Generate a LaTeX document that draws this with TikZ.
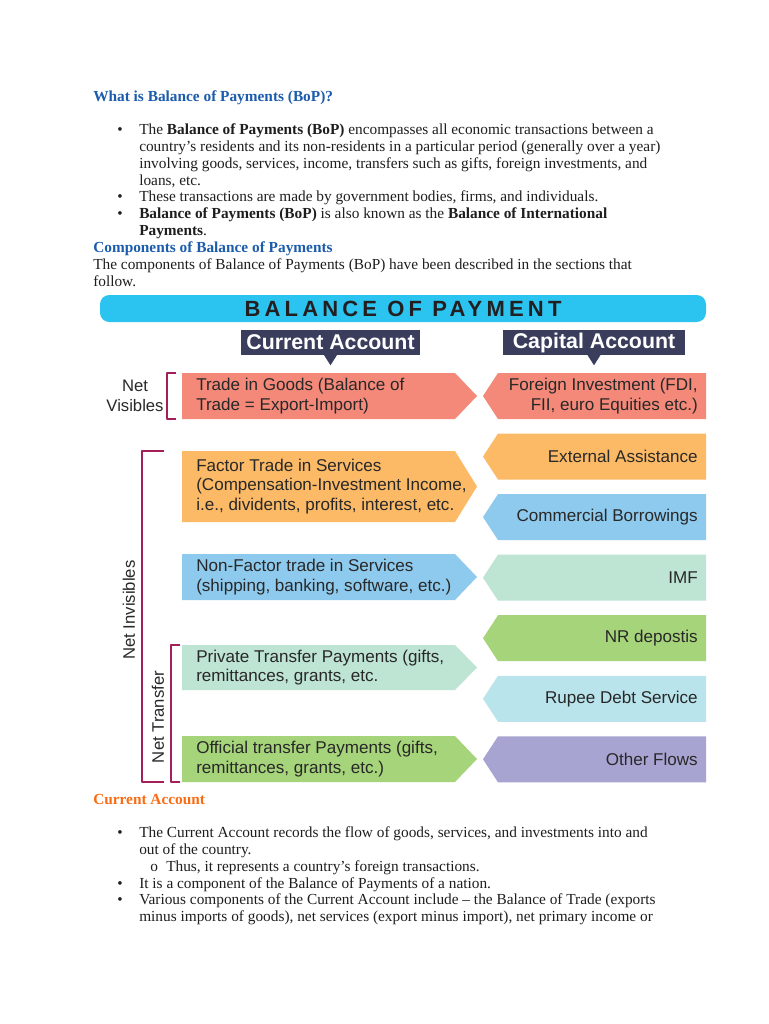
\documentclass[tikz,border=0pt]{standalone}
\usepackage{fontspec}
\setmainfont{Liberation Serif}
\newfontfamily\diafont{Liberation Sans}
\newfontfamily\bannerfont{Liberation Sans}[LetterSpace=19]

\definecolor{headblue}{RGB}{28,92,172}
\definecolor{headorange}{RGB}{250,108,20}
\definecolor{bodytxt}{RGB}{30,30,30}
\definecolor{boxtxt}{RGB}{40,40,40}
\definecolor{bannercyan}{RGB}{43,196,240}
\definecolor{bannertxt}{RGB}{35,31,32}
\definecolor{navy}{RGB}{58,61,92}
\definecolor{salmon}{RGB}{244,137,122}
\definecolor{orangebox}{RGB}{252,186,102}
\definecolor{bluebox}{RGB}{142,202,237}
\definecolor{mintbox}{RGB}{190,228,212}
\definecolor{greenbox}{RGB}{166,212,122}
\definecolor{cyanbox}{RGB}{186,228,236}
\definecolor{purplebox}{RGB}{168,164,210}
\definecolor{brackc}{RGB}{164,30,90}

\begin{document}
\begin{tikzpicture}[x=0.75pt, y=-0.75pt, line join=round,
  body/.style={anchor=base west, inner sep=0pt, text=bodytxt, font=\fontsize{11.5}{12.75}\selectfont},
  head/.style={body, font=\bfseries\fontsize{11.5}{12.75}\selectfont},
  acc/.style={fill=navy, text=white, inner sep=0pt, minimum width=134.25pt, minimum height=18.75pt, font=\diafont\bfseries\fontsize{16}{18}\selectfont},
  ltext/.style={anchor=west, align=left, inner sep=0pt, text=boxtxt, font=\diafont\fontsize{12.8}{14.6}\selectfont},
  rtext/.style={ltext, anchor=east, align=right},
  lbl/.style={inner sep=0pt, text=boxtxt, font=\diafont\fontsize{12.5}{14.6}\selectfont},
  brk/.style={draw=brackc, line width=1.2pt}]
  \useasboundingbox[fill=white] (0,0) rectangle (768,1024);

  % Introduction text
  \node[head, text=headblue] (what) at (93,101) {What is Balance of Payments (BoP)?};
  \node[body] (b1) at (117,134.5) {\textbullet};
  \node[body] (l1) at (139,134.5) {The \textbf{Balance of Payments (BoP)} encompasses all economic transactions between a};
  \node[body] (l2) at (139,151.4) {country’s residents and its non-residents in a particular period (generally over a year)};
  \node[body] (l3) at (139,168.2) {involving goods, services, income, transfers such as gifts, foreign investments, and};
  \node[body] (l4) at (139,185.1) {loans, etc.};
  \node[body] (b2) at (117,201.9) {\textbullet};
  \node[body] (l5) at (139,201.9) {These transactions are made by government bodies, firms, and individuals.};
  \node[body] (b3) at (117,218.8) {\textbullet};
  \node[body] (l6) at (139,218.8) {\textbf{Balance of Payments (BoP)} is also known as the \textbf{Balance of International}};
  \node[body] (l7) at (139,235.6) {\textbf{Payments}.};
  \node[head, text=headblue] (comp) at (93,252.5) {Components of Balance of Payments};
  \node[body] (c1) at (93,269.3) {The components of Balance of Payments (BoP) have been described in the sections that};
  \node[body] (c2) at (93,286.2) {follow.};

  % Banner and the two account headers
  \fill[bannercyan, rounded corners=7] (100,295) rectangle (706,322);
  \node[inner sep=0pt, text=bannertxt, font=\bannerfont\bfseries\fontsize{16.5}{17}\selectfont] (bop) at (403,308.5) {BALANCE OF PAYMENT};
  \node[acc] (curacc) at (330.5,342.5) {Current Account};
  \node[acc, minimum width=136.5pt] (capacc) at (594,342.5) {Capital Account};
  \fill[navy] (curacc.south) ++(-7,-1) -- ++(7,11) -- ++(7,-11) -- cycle;
  \fill[navy] (capacc.south) ++(-7,-1) -- ++(7,11) -- ++(7,-11) -- cycle;

  % Current account arrows (left column)
  \foreach \t/\b/\c in {373/419/salmon, 451/522/orangebox, 554/600/bluebox, 645/690/mintbox, 736/782/greenbox}
    \fill[\c] (182,\t) -- (455,\t) -- (477,{(\t+\b)/2}) -- (455,\b) -- (182,\b) -- cycle;

  % Capital account boxes (right column)
  \foreach \c [count=\i from 0] in {salmon, orangebox, bluebox, mintbox, greenbox, cyanbox, purplebox}{
    \pgfmathsetmacro\t{373+60.55*\i}
    \fill[\c] (498,\t) -- (706,\t) -- (706,{\t+46}) -- (498,{\t+46}) -- (483,{\t+23}) -- cycle;
  }

  % Texts in the left column
  \node[ltext] (goods) at (196,396) {Trade in Goods (Balance of\\Trade = Export-Import)};
  \node[ltext] (factor) at (196,486.5) {Factor Trade in Services\\(Compensation-Investment Income,\\i.e., dividents, profits, interest, etc.};
  \node[ltext] (nonfactor) at (196,577) {Non-Factor trade in Services\\(shipping, banking, software, etc.)};
  \node[ltext] (private) at (196,667.5) {Private Transfer Payments (gifts,\\remittances, grants, etc.};
  \node[ltext] (official) at (196,759) {Official transfer Payments (gifts,\\remittances, grants, etc.)};

  % Texts in the right column
  \node[rtext] (fdi) at (698,396) {Foreign Investment (FDI,\\FII, euro Equities etc.)};
  \node[rtext] (ext) at (698,456.5) {External Assistance};
  \node[rtext] (comm) at (698,517) {Commercial Borrowings};
  \node[rtext] (imf) at (698,578) {IMF};
  \node[rtext] (nrd) at (698,638) {NR depostis};
  \node[rtext] (rupee) at (698,699) {Rupee Debt Service};
  \node[rtext] (other) at (698,759.5) {Other Flows};

  % Brackets with their labels
  \draw[brk] (176,373) -- (167,373) -- (167,419) -- (176,419);
  \draw[brk] (164,451) -- (142,451) -- (142,782) -- (164,782);
  \draw[brk] (180,645) -- (171,645) -- (171,782) -- (180,782);
  \node[lbl, align=center] (vis) at (135,396) {Net\\Visibles};
  \node[lbl, rotate=90] (invis) at (129,610) {Net Invisibles};
  \node[lbl, rotate=90] (transfer) at (158,717) {Net Transfer};

  % Current account text
  \node[head, text=headorange] (curhead) at (93,804) {Current Account};
  \node[body] (d1) at (117,837.5) {\textbullet};
  \node[body] (m1) at (139,837.5) {The Current Account records the flow of goods, services, and investments into and};
  \node[body] (m2) at (139,854.3) {out of the country.};
  \node[body] (d2) at (150,871.2) {o};
  \node[body] (m3) at (166,871.2) {Thus, it represents a country’s foreign transactions.};
  \node[body] (d3) at (117,888) {\textbullet};
  \node[body] (m4) at (139,888) {It is a component of the Balance of Payments of a nation.};
  \node[body] (d4) at (117,904.9) {\textbullet};
  \node[body] (m5) at (139,904.9) {Various components of the Current Account include – the Balance of Trade (exports};
  \node[body] (m6) at (139,921.7) {minus imports of goods), net services (export minus import), net primary income or};
\end{tikzpicture}
\end{document}
